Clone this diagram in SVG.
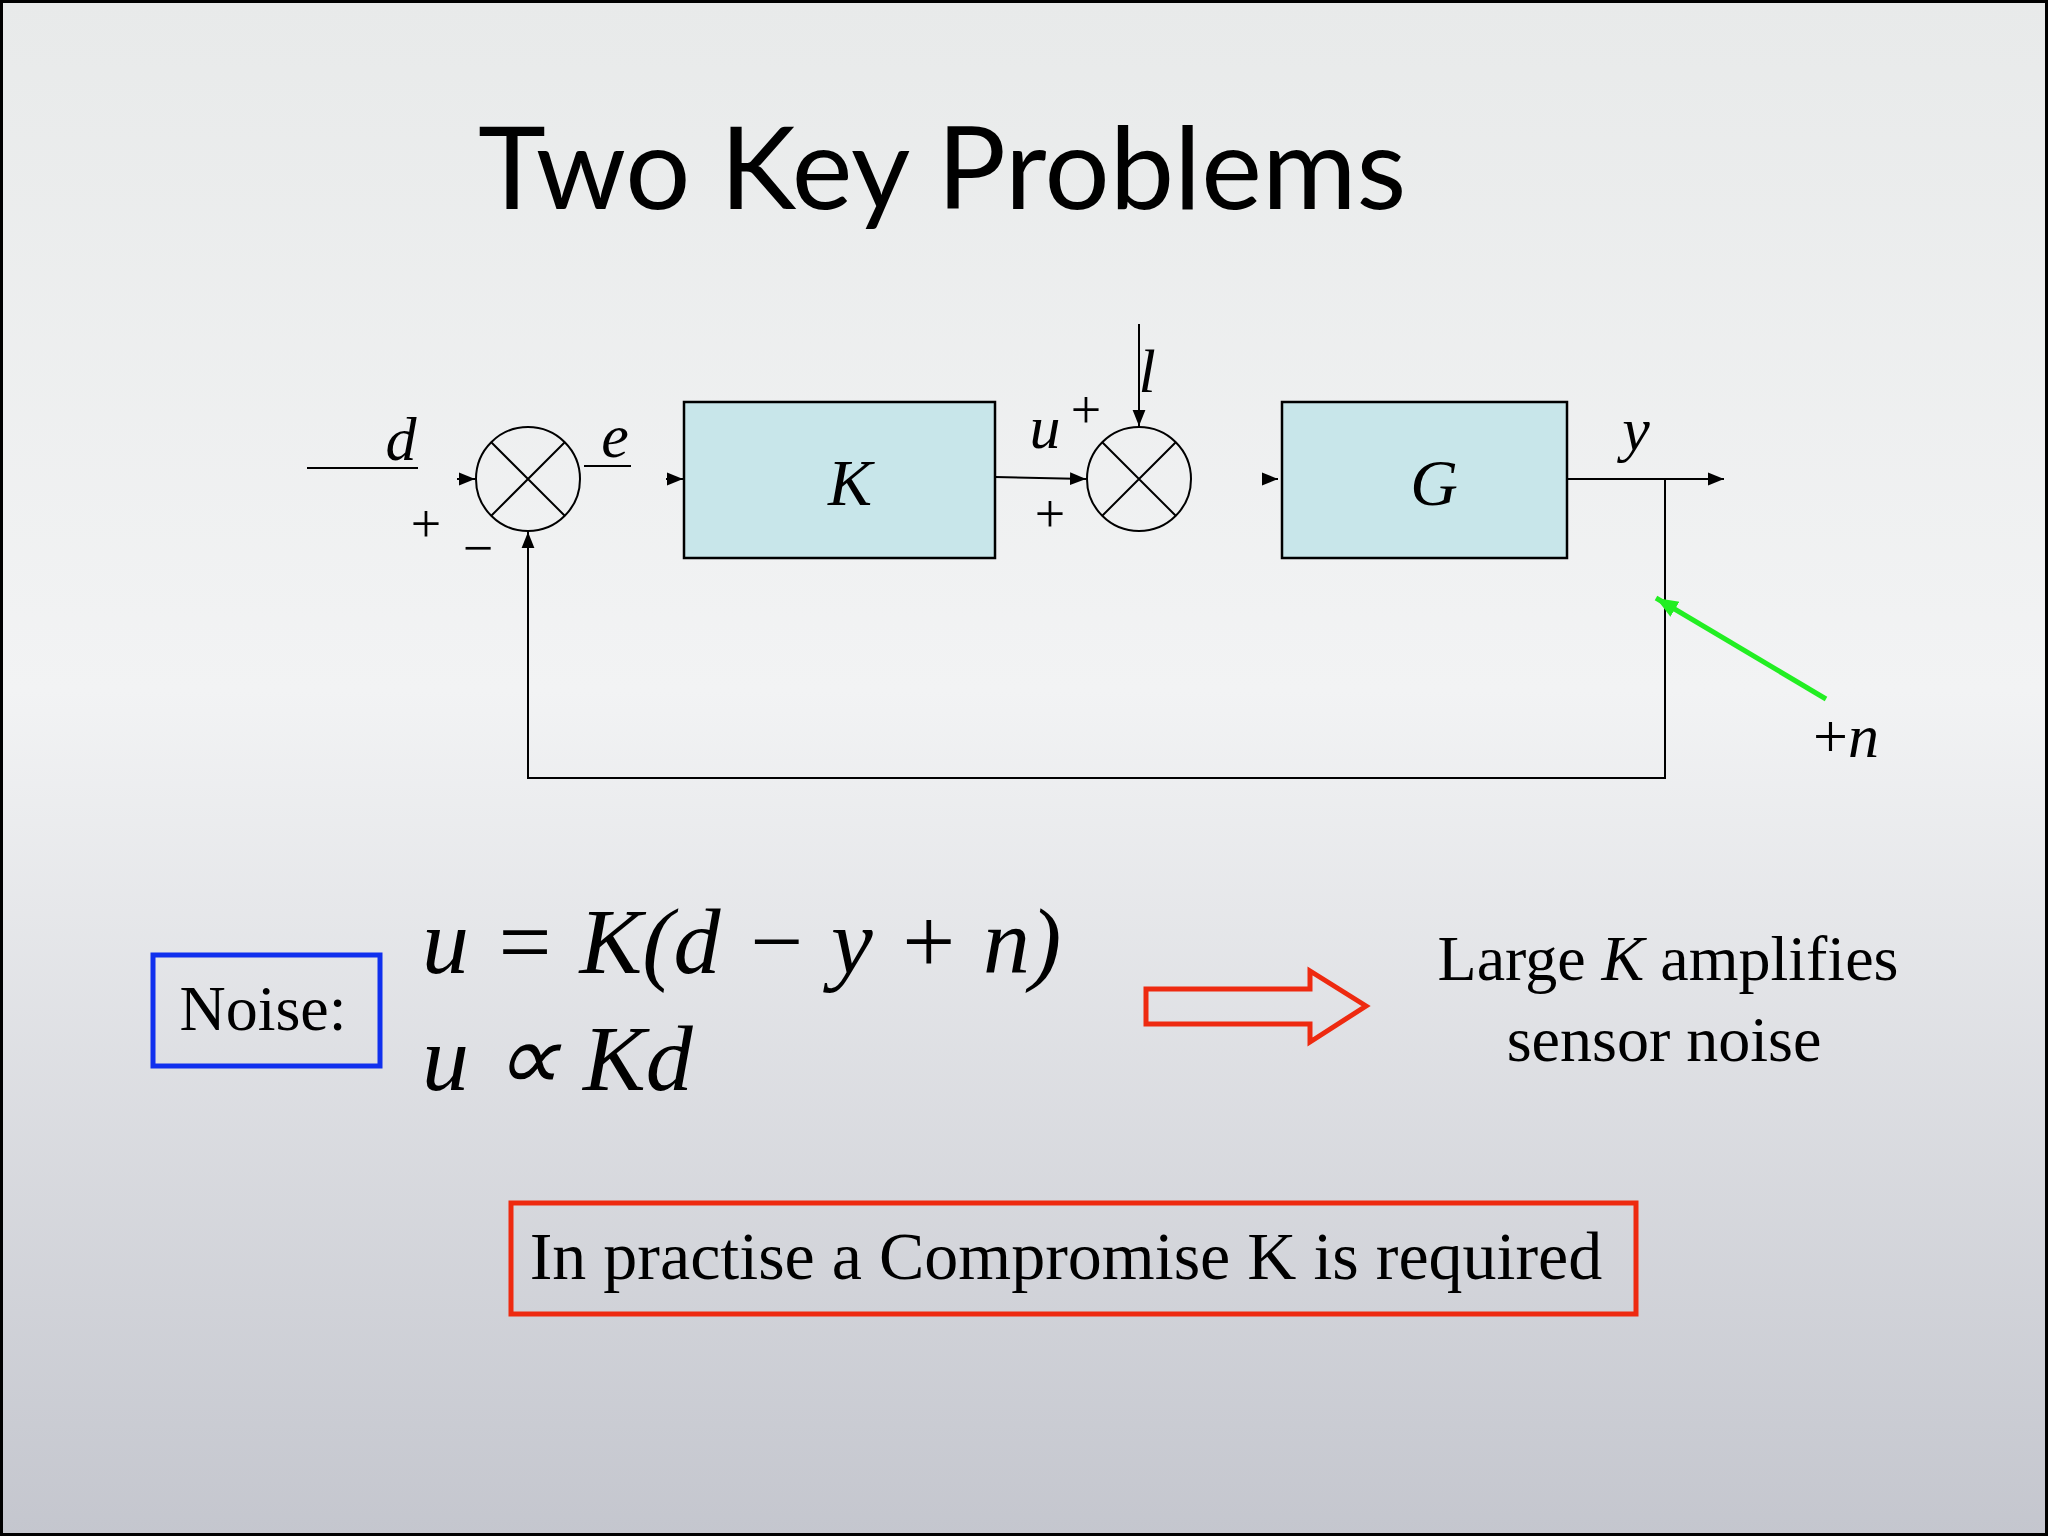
<svg xmlns="http://www.w3.org/2000/svg" width="2048" height="1536" viewBox="0 0 2048 1536">
<defs>
<linearGradient id="bg" x1="0" y1="0" x2="0" y2="1">
<stop offset="0" stop-color="#e8eaea"/><stop offset="0.45" stop-color="#f2f3f4"/><stop offset="1" stop-color="#c4c6ce"/>
</linearGradient>
<marker id="ah" viewBox="0 0 10 10" refX="10" refY="5" markerWidth="16" markerHeight="16" markerUnits="userSpaceOnUse" orient="auto"><path d="M0,1 L10,5 L0,9 z" fill="#000"/></marker>
<marker id="gh" viewBox="0 0 10 10" refX="10" refY="5" markerWidth="22" markerHeight="22" markerUnits="userSpaceOnUse" orient="auto"><path d="M0,1 L10,5 L0,9 z" fill="#22ee22"/></marker>
<style>
.ln{stroke:#000;stroke-width:2;fill:none}
.blk{fill:#c8e6ea;stroke:#000;stroke-width:2.5}
.m{font-family:"Liberation Serif",serif;font-style:italic;fill:#000}
.r{font-family:"Liberation Serif",serif;fill:#000}
</style>
</defs>
<rect x="0" y="0" width="2048" height="1536" fill="url(#bg)" stroke="#000" stroke-width="6"/>
<text x="478" y="209" font-family="Lato, sans-serif" font-size="115" fill="#000">Two Key Problems</text>
<g id="sum1"><circle cx="528" cy="479" r="52" fill="none" stroke="#000" stroke-width="2"/><path class="ln" d="M491,442 L565,516 M565,442 L491,516"/></g>
<g id="K"><rect class="blk" x="684" y="402" width="311" height="156"/><text class="m" x="850" y="505" font-size="66" text-anchor="middle">K</text></g>
<g id="sum2"><circle cx="1139" cy="479" r="52" fill="none" stroke="#000" stroke-width="2"/><path class="ln" d="M1102,442 L1176,516 M1176,442 L1102,516"/></g>
<g id="G"><rect class="blk" x="1282" y="402" width="285" height="156"/><text class="m" x="1434" y="505" font-size="66" text-anchor="middle">G</text></g>
<g id="connectors">
<path class="ln" d="M307,468 H418" stroke-width="3"/>
<path class="ln" d="M457,479 H475" marker-end="url(#ah)"/>
<path class="ln" d="M584,466 H631" stroke-width="3"/>
<path class="ln" d="M666,479 H683" marker-end="url(#ah)"/>
<path class="ln" d="M995,477 L1086,479" marker-end="url(#ah)"/>
<path class="ln" d="M1139,324 V426" marker-end="url(#ah)"/>
<path class="ln" d="M1262,479 H1278" marker-end="url(#ah)"/>
<path class="ln" d="M1567,479 H1724" marker-end="url(#ah)"/>
<path class="ln" d="M1665,479 V778 H528 V532" marker-end="url(#ah)"/>
<path d="M1826,699 L1656,598" stroke="#22ee22" stroke-width="5" fill="none" marker-end="url(#gh)"/>
</g>
<g id="labels">
<text class="m" x="401" y="460" font-size="62" text-anchor="middle">d</text>
<text class="r" x="426" y="542" font-size="54" text-anchor="middle">+</text>
<text class="r" x="478" y="566" font-size="54" text-anchor="middle">−</text>
<text class="m" x="615" y="457" font-size="62" text-anchor="middle">e</text>
<text class="m" x="1045" y="448" font-size="62" text-anchor="middle">u</text>
<text class="r" x="1086" y="428" font-size="54" text-anchor="middle">+</text>
<text class="r" x="1050" y="532" font-size="54" text-anchor="middle">+</text>
<text class="m" x="1147" y="392" font-size="62" text-anchor="middle">l</text>
<text class="m" x="1636" y="450" font-size="62" text-anchor="middle">y</text>
<text x="1813" y="757" font-size="62"><tspan class="r">+</tspan><tspan class="m">n</tspan></text>
</g>
<g id="noise"><rect x="153" y="955" width="227" height="111" fill="none" stroke="#1030ee" stroke-width="5"/><text class="r" x="263" y="1030" font-size="64" text-anchor="middle">Noise:</text></g>
<text class="m" x="422" y="973" font-size="94">u <tspan class="r">=</tspan> K<tspan class="r">(</tspan>d <tspan class="r">−</tspan> y <tspan class="r">+</tspan> n<tspan class="r">)</tspan></text>
<text class="m" x="422" y="1090" font-size="94">u <tspan class="r">∝</tspan> Kd</text>
<path d="M1146,989 H1310 V971 L1366,1006 L1310,1042 V1024 H1146 Z" fill="none" stroke="#ee2a10" stroke-width="5"/>
<text class="r" x="1668" y="980" font-size="64" text-anchor="middle">Large <tspan font-style="italic">K</tspan> amplifies</text>
<text class="r" x="1664" y="1061" font-size="64" text-anchor="middle">sensor noise</text>
<g id="compromise"><rect x="511" y="1203" width="1125" height="111" fill="none" stroke="#ee2a10" stroke-width="5"/><text class="r" x="1066" y="1279" font-size="68" text-anchor="middle">In practise a Compromise K is required</text></g>
</svg>
